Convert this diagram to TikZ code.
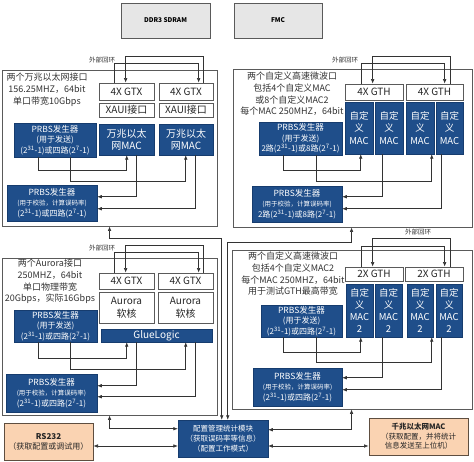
\documentclass[tikz,border=0pt]{standalone}
\usepackage{fontspec}
\setmainfont{Noto Sans CJK SC}
\usetikzlibrary{arrows.meta,calc}
\definecolor{bluebox}{HTML}{1F4E8A}
\definecolor{blueedge}{HTML}{163C6E}
\definecolor{peach}{HTML}{FAD3B2}
\definecolor{peachedge}{HTML}{5E4E40}
\definecolor{graybox}{HTML}{E6E6E6}
\definecolor{framegray}{HTML}{5A5A5A}
\definecolor{txtgray}{HTML}{333333}
\newcommand{\rbox}[7]{\node[#6,minimum width={(#4-#2)*1pt},minimum height={(#5-#3)*1pt}] (#1) at ({(#2+#4)/2},{(#3+#5)/2}) {#7};}
\newcommand{\prbs}[2]{{\fontsize{8.5}{10}\selectfont PRBS发生器}\\{#1}\\{\fontsize{8}{10}\selectfont #2}}
\newcommand{\supt}[1]{\textsuperscript{#1}}
\tikzset{
 quad/.style={draw=framegray,line width=0.9pt,fill=white,inner sep=0pt},
 gtx/.style={draw=framegray,line width=0.7pt,fill=white,inner sep=0pt,align=center,text=black!85,font=\fontsize{10}{12.5}\selectfont},
 blu/.style={draw=blueedge,line width=0.5pt,fill=bluebox,inner sep=0pt,text=white,align=center,font=\fontsize{10}{12.5}\selectfont},
 pbox/.style={blu,font=\fontsize{8}{10.5}\selectfont},
 pch/.style={draw=peachedge,line width=1pt,fill=peach,inner sep=0pt,align=center,text=black!85,font=\fontsize{8}{10}\selectfont},
 gry/.style={draw=framegray,line width=0.9pt,fill=graybox,inner sep=0pt,font=\fontsize{6.5}{8}\selectfont\bfseries},
 desc/.style={text=txtgray,align=center,font=\fontsize{9}{11.7}\selectfont,inner sep=0pt},
 conn/.style={draw=black!80,line width=0.6pt},
 arr/.style={conn,-{Latex[length=4.5pt,width=3.6pt]}},
 darr/.style={conn,{Latex[length=4.5pt,width=3.6pt]}-{Latex[length=4.5pt,width=3.6pt]}},
 lbl/.style={font=\fontsize{6.5}{7}\selectfont,text=txtgray,inner sep=0pt},
}
\begin{document}
\begin{tikzpicture}[x=1pt,y=-1pt]
\useasboundingbox[fill=white] (0,0) rectangle (474,462);
% top boxes
\rbox{ddr}{121}{3}{210}{38}{gry}{DDR3 SDRAM}
\rbox{fmc}{234}{3}{322}{38}{gry}{FMC}

% ===== top-left quadrant =====
\rbox{tl}{2}{70}{217}{226}{quad}{}
\node[desc,anchor=north] (tltxt) at (47,73) {两个万兆以太网接口\\156.25MHZ，64bit\\单口带宽10Gbps};
\rbox{tlg1}{99}{83}{154}{100}{gtx}{4X GTX}
\rbox{tlg2}{159}{83}{213}{100}{gtx}{4X GTX}
\rbox{tlx1}{99}{103}{154}{117}{gtx}{XAUI接口}
\rbox{tlx2}{159}{103}{213}{117}{gtx}{XAUI接口}
\rbox{tlm1}{99}{124}{154}{155}{blu}{万兆以太\\网MAC}
\rbox{tlm2}{159}{124}{213}{155}{blu}{万兆以太\\网MAC}
\rbox{tlps}{14}{123}{96}{157}{pbox}{\prbs{(用于发送)}{(2\supt{31}-1)或四路(2\supt{7}-1)}}
\rbox{tlpr}{7}{185}{97}{221}{pbox}{\prbs{{\fontsize{6.5}{8}\selectfont (用于校验，计算误码率)}}{(2\supt{31}-1)或四路(2\supt{7}-1)}}
\draw[arr] ([xshift=25pt]tlps.south west) -- ++(0,13) -| ([xshift=28pt]tlm1.south west);
\draw[arr] ([xshift=57pt]tlps.south west) -- ++(0,24) -| ([xshift=27pt]tlm2.south west);
\draw[arr] ([xshift=38pt]tlm1.south west) |- ([yshift=-12pt]tlpr.north east);
\draw[arr] ([xshift=37pt]tlm2.south west) |- ([yshift=-24pt]tlpr.north east);
\draw[arr] ([xshift=16pt]tlg1.north west) -- ++(0,-19) -| ([xshift=40pt]tlg2.north west);
\draw[arr] ([xshift=45pt]tlg2.north west) -- ++(0,-26) -| ([xshift=27pt]tlg1.north west);
\node[lbl] (tlloop) at (102,60) {外部回环};

% ===== top-right quadrant =====
\rbox{tr}{233}{69}{472}{227}{quad}{}
\node[desc,anchor=north] (trtxt) at (292,72) {两个自定义高速微波口\\包括4个自定义MAC\\或8个自定义MAC2\\每个MAC 250MHZ，64bit};
\rbox{trg1}{345}{84}{403}{100}{gtx}{4X GTH}
\rbox{trg2}{406}{84}{463}{100}{gtx}{4X GTH}
\rbox{trm1}{345}{102}{373}{154}{blu,font=\fontsize{9.5}{12.5}\selectfont}{自定\\义\\MAC}
\rbox{trm2}{375}{102}{403}{154}{blu,font=\fontsize{9.5}{12.5}\selectfont}{自定\\义\\MAC}
\rbox{trm3}{406}{102}{434}{154}{blu,font=\fontsize{9.5}{12.5}\selectfont}{自定\\义\\MAC}
\rbox{trm4}{436}{102}{463}{154}{blu,font=\fontsize{9.5}{12.5}\selectfont}{自定\\义\\MAC}
\rbox{trps}{259}{122}{342}{155}{pbox}{\prbs{(用于发送)}{2路(2\supt{31}-1)或8路(2\supt{7}-1)}}
\rbox{trpr}{252}{186}{342}{222}{pbox}{\prbs{{\fontsize{6.5}{8}\selectfont (用于校验，计算误码率)}}{2路(2\supt{31}-1)或8路(2\supt{7}-1)}}
\draw[arr] ([xshift=25pt]trps.south west) -- ++(0,15) -| ([xshift=16pt]trm1.south west);
\draw[arr] ([xshift=58pt]trps.south west) -- ++(0,26) -| ([xshift=26pt]trm3.south west);
\draw[arr] ([xshift=8pt]trm2.south west) |- ([yshift=-11pt]trpr.north east);
\draw[arr] ([xshift=6pt]trm4.south west) |- ([yshift=-23pt]trpr.north east);
\draw[arr] ([xshift=17pt]trg1.north west) -- ++(0,-20) -| ([xshift=39pt]trg2.north west);
\draw[arr] ([xshift=45pt]trg2.north west) -- ++(0,-27) -| ([xshift=28pt]trg1.north west);
\node[lbl] (trloop) at (345,60) {外部回环};

% ===== bottom-left quadrant =====
\rbox{bl}{2}{258}{217}{415}{quad}{}
\node[desc,anchor=north] (bltxt) at (50,259) {两个Aurora接口\\250MHZ，64bit\\单口物理带宽\\20Gbps，实际16Gbps};
\rbox{blg1}{99}{273}{154}{289}{gtx}{4X GTX}
\rbox{blg2}{158}{273}{213}{289}{gtx}{4X GTX}
\rbox{bla1}{99}{292}{154}{323}{gtx}{Aurora\\软核}
\rbox{bla2}{158}{292}{213}{323}{gtx}{Aurora\\软核}
\rbox{blgl}{101}{329}{212}{342}{blu}{GlueLogic}
\rbox{blps}{14}{310}{97}{342}{pbox}{\prbs{(用于发送)}{(2\supt{31}-1)或四路(2\supt{7}-1)}}
\rbox{blpr}{6}{374}{97}{412}{pbox}{\prbs{{\fontsize{6.5}{8}\selectfont (用于校验，计算误码率)}}{(2\supt{31}-1)或四路(2\supt{7}-1)}}
\draw[arr] ([xshift=25pt]blps.south west) -- ++(0,16) -| ([xshift=26pt]blgl.south west);
\draw[arr] ([xshift=57pt]blps.south west) -- ++(0,27) -| ([xshift=85pt]blgl.south west);
\draw[arr] ([xshift=36pt]blgl.south west) |- ([yshift=-12pt]blpr.north east);
\draw[arr] ([xshift=95pt]blgl.south west) |- ([yshift=-23pt]blpr.north east);
\draw[arr] ([xshift=16pt]blg1.north west) -- ++(0,-20) -| ([xshift=41pt]blg2.north west);
\draw[arr] ([xshift=46pt]blg2.north west) -- ++(0,-27) -| ([xshift=27pt]blg1.north west);
\node[lbl] (blloop) at (102,248) {外部回环};

% ===== bottom-right quadrant =====
\rbox{br}{232}{250}{472}{409}{quad}{}
\node[desc,anchor=north] (brtxt) at (293,252) {两个自定义高速微波口\\包括4个自定义MAC2\\每个MAC 250MHZ，64bit\\用于测试GTH最高带宽};
\rbox{brg1}{345}{267}{403}{281}{gtx}{2X GTH}
\rbox{brg2}{405}{267}{463}{281}{gtx}{2X GTH}
\rbox{brm1}{346}{284}{373}{337}{blu,font=\fontsize{9.5}{12}\selectfont}{自定\\义\\MAC\\2}
\rbox{brm2}{375}{284}{402}{337}{blu,font=\fontsize{9.5}{12}\selectfont}{自定\\义\\MAC\\2}
\rbox{brm3}{407}{284}{433}{337}{blu,font=\fontsize{9.5}{12}\selectfont}{自定\\义\\MAC\\2}
\rbox{brm4}{436}{284}{462}{337}{blu,font=\fontsize{9.5}{12}\selectfont}{自定\\义\\MAC\\2}
\rbox{brps}{261}{305}{342}{337}{pbox}{\prbs{(用于发送)}{(2\supt{31}-1)或四路(2\supt{7}-1)}}
\rbox{brpr}{253}{368}{342}{406}{pbox}{\prbs{{\fontsize{6.5}{8}\selectfont (用于校验，计算误码率)}}{(2\supt{31}-1)或四路(2\supt{7}-1)}}
\draw[arr] ([xshift=23pt]brps.south west) -- ++(0,15) -| ([xshift=15pt]brm1.south west);
\draw[arr] ([xshift=56pt]brps.south west) -- ++(0,25) -| ([xshift=25pt]brm3.south west);
\draw[arr] ([xshift=8pt]brm2.south west) |- ([yshift=-10pt]brpr.north east);
\draw[arr] ([xshift=6pt]brm4.south west) |- ([yshift=-22pt]brpr.north east);
\draw[arr] ([xshift=17pt]brg1.north west) -- ++(0,-20) -| ([xshift=40pt]brg2.north west);
\draw[arr] ([xshift=46pt]brg2.north west) -- ++(0,-28) -| ([xshift=28pt]brg1.north west);
\node[lbl] (brloop) at (418,232) {外部回环};

% ===== bottom row =====
\rbox{cfg}{178}{420}{268}{457}{blu,font=\fontsize{7.5}{10}\selectfont}{配置管理统计模块\\（获取误码率等信息）\\（配置工作模式）}
\rbox{rs}{4}{423}{93}{460}{pch}{\textbf{RS232}\\（获取配置或调试用）}
\rbox{gb}{369}{418}{468}{455}{pch,font=\fontsize{7.5}{9.5}\selectfont}{\textbf{千兆以太网MAC}\\（获取配置，并将统计\\信息发送至上位机）}
\coordinate (ybot) at (0,446);
\draw[darr] ([xshift=108pt]tl.south west) -- ++(0,12) -| ([xshift=44pt]cfg.north west);
\draw[darr] ([xshift=119pt]tr.south west) -- ++(0,15) -| ([xshift=50pt]cfg.north west);
\draw[darr] ([xshift=108pt]bl.south west) |- ([yshift=-9pt]cfg.north west);
\draw[darr] ([xshift=120pt]br.south west) |- ([yshift=-10pt]cfg.north east);
\draw[darr] (rs.east |- ybot) -- (cfg.west |- ybot);
\draw[darr] (cfg.east |- ybot) -- (gb.west |- ybot);
\end{tikzpicture}
\end{document}
